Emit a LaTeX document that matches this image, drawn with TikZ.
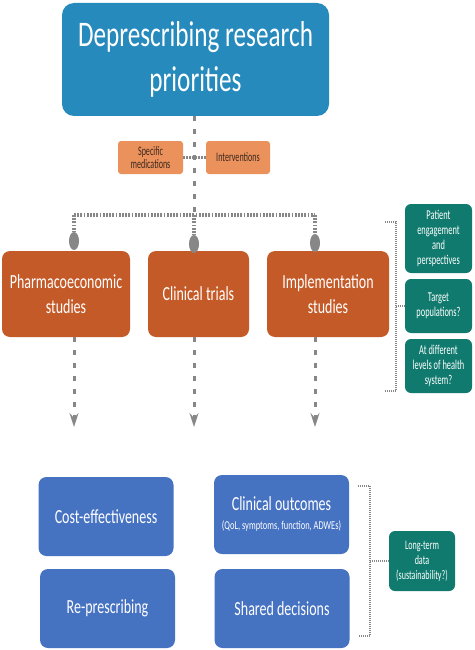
\documentclass[tikz,border=0pt]{standalone}
\usepackage{fontspec}
\setmainfont{Carlito}[FakeStretch=0.7]
\newfontfamily\smallcond{Carlito}[FakeStretch=0.62]
\usetikzlibrary{arrows.meta,shapes.geometric}
\definecolor{topblue}{RGB}{38,138,188}
\definecolor{lorange}{RGB}{234,145,92}
\definecolor{dorange}{RGB}{196,90,40}
\definecolor{tealc}{RGB}{16,122,110}
\definecolor{bblue}{RGB}{70,114,194}
\definecolor{lgray}{RGB}{135,135,135}
\definecolor{ltext}{RGB}{60,40,30}
\begin{document}
\begin{tikzpicture}[x=1pt,y=-1pt,
  box/.style={draw=none, inner sep=0pt, align=center, text=white},
  titlebox/.style={box, fill=topblue, rounded corners=12pt, font=\fontsize{36}{45}\selectfont},
  tagbox/.style={box, fill=lorange, rounded corners=3pt, text=ltext, font=\smallcond\fontsize{13}{13.5}\selectfont},
  studybox/.style={box, fill=dorange, rounded corners=8pt, minimum height=86pt, font=\fontsize{20}{25}\selectfont},
  sidebox/.style={box, fill=tealc, rounded corners=6pt, minimum width=67pt, font=\smallcond\fontsize{13.5}{15}\selectfont},
  outbox/.style={box, fill=bblue, rounded corners=8pt, minimum width=135pt, minimum height=79pt, font=\fontsize{20}{25}\selectfont},
  bigdash/.style={draw=lgray, line width=3pt, dash pattern=on 5pt off 8pt},
  densedash/.style={draw=lgray, line width=4pt, dash pattern=on 1.8pt off 1.4pt},
  tagdot/.style={draw=lgray, line width=2.5pt, dash pattern=on 1.5pt off 1.5pt},
  brk/.style={draw=lgray, line width=1.2pt, dash pattern=on 1pt off 1pt},
  marker/.style={ellipse, fill=lgray, minimum width=10pt, minimum height=18pt, inner sep=0pt},
  tip/.style={-{Stealth[length=14pt,width=9pt,inset=5pt]}}
]
\useasboundingbox (0,0) rectangle (474,650);
\fill[white] (0,0) rectangle (474,650);

% boxes
\node[titlebox, minimum width=267pt, minimum height=113pt] (top) at (195.5,59.5) {Deprescribing research\\priorities};
\node[tagbox, minimum width=65pt, minimum height=33pt] (spec) at (150.5,157.5) {Specific\\medications};
\node[tagbox, minimum width=64pt, minimum height=33pt] (intv) at (238,157.5) {Interventions};

\node[studybox, minimum width=128pt] (pharm) at (66,294) {Pharmacoeconomic\\studies};
\node[studybox, minimum width=101pt] (clin) at (198.5,294) {Clinical trials};
\node[studybox, minimum width=122pt] (impl) at (328,294) {Implementation\\studies};

\node[sidebox, minimum height=69pt] (pat) at (438.5,238.5) {Patient\\engagement\\and\\perspectives};
\node[sidebox, minimum height=54pt] (targ) at (438.5,306) {Target\\populations?};
\node[sidebox, minimum height=54pt] (levels) at (438.5,366) {At different\\levels of health\\system?};

\node[outbox] (cost) at (106,516.5) {Cost-effectiveness};
\node[outbox] (repr) at (107.5,608.5) {Re-prescribing};
\node[outbox] (cout) at (281.5,514.5) {Clinical outcomes\\[-6pt]{\fontsize{12}{14}\selectfont (QoL, symptoms, function, ADWEs)}};
\node[outbox] (shar) at (282,608.5) {Shared decisions};
\node[sidebox, minimum width=66pt, minimum height=60pt, font=\smallcond\fontsize{13}{15}\selectfont] (ltd) at (422,561) {Long-term\\data\\(sustainability?)};

% connectors
\coordinate (hub) at (194,215);
\coordinate (hl) at (74,215);
\coordinate (hr) at (315,215);
\draw[bigdash] (top.south -| hub) -- (hub);
\draw[tagdot] (spec.east) -- (intv.west);
\draw[densedash] (hl) -- (hr);

\node[marker] (m1) at (74,241) {};
\node[marker] (m2) at (194,244) {};
\node[marker] (m3) at (315,243) {};
\draw[densedash] (hl) -- (m1.north);
\draw[densedash] (hub) -- (m2.north);
\draw[densedash] (hr) -- (m3.north);

\coordinate (a1) at (74,427);
\coordinate (a2) at (194,427);
\coordinate (a3) at (315,427);
\draw[bigdash, tip] (pharm.south -| a1) -- (a1);
\draw[bigdash, tip] (clin.south -| a2) -- (a2);
\draw[bigdash, tip] (impl.south -| a3) -- (a3);

% brackets
\coordinate (bt) at (396,222);
\coordinate (bb) at (396,391);
\draw[brk] ([xshift=-11pt]bt) -- (bt) -- (bb) -- ([xshift=-11pt]bb);
\draw[brk] (targ.west -| bt) -- (targ.west);

\coordinate (ct) at (370,486);
\coordinate (cb) at (370,636);
\draw[brk] ([xshift=-12pt]ct) -- (ct) -- (cb) -- ([xshift=-12pt]cb);
\draw[brk] (ltd.west -| ct) -- (ltd.west);
\end{tikzpicture}
\end{document}
